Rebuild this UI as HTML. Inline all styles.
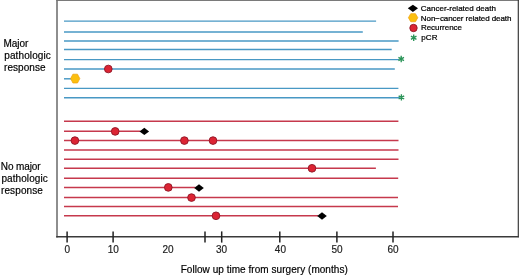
<!DOCTYPE html><html><head><meta charset="utf-8"><style>html,body{margin:0;padding:0;background:#fff;width:520px;height:276px;overflow:hidden}svg{display:block}text{font-family:"Liberation Sans",Arial,sans-serif;fill:#000;stroke:#000;stroke-width:0.18px}</style></head><body>
<svg width="520" height="276" viewBox="0 0 520 276">
<line x1="56.3" y1="0.35" x2="518.9" y2="0.35" stroke="#7a7a7a" stroke-width="1.2"/>
<line x1="57" y1="0" x2="57" y2="237.4" stroke="#727272" stroke-width="1.6"/>
<line x1="518.3" y1="0" x2="518.3" y2="237.3" stroke="#333" stroke-width="1.15"/>
<line x1="56.2" y1="236.8" x2="518.9" y2="236.8" stroke="#3a3a3a" stroke-width="1.4"/>
<line x1="64.0" y1="21.1" x2="376.1" y2="21.1" stroke="#4898c4" stroke-width="1.45"/>
<line x1="64.0" y1="31.9" x2="362.8" y2="31.9" stroke="#4898c4" stroke-width="1.45"/>
<line x1="64.0" y1="40.9" x2="398.6" y2="40.9" stroke="#4898c4" stroke-width="1.45"/>
<line x1="64.0" y1="49.5" x2="391.7" y2="49.5" stroke="#4898c4" stroke-width="1.45"/>
<line x1="64.0" y1="59.6" x2="399.0" y2="59.6" stroke="#4898c4" stroke-width="1.45"/>
<line x1="64.0" y1="68.9" x2="394.8" y2="68.9" stroke="#4898c4" stroke-width="1.45"/>
<line x1="64.0" y1="78.8" x2="72.0" y2="78.8" stroke="#4898c4" stroke-width="1.45"/>
<line x1="64.0" y1="88.35" x2="398.4" y2="88.35" stroke="#4898c4" stroke-width="1.45"/>
<line x1="64.0" y1="97.7" x2="400.0" y2="97.7" stroke="#4898c4" stroke-width="1.45"/>
<line x1="64.0" y1="121.3" x2="398.4" y2="121.3" stroke="#c6394d" stroke-width="1.45"/>
<line x1="64.0" y1="131.2" x2="140.5" y2="131.2" stroke="#c6394d" stroke-width="1.45"/>
<line x1="64.0" y1="140.5" x2="398.5" y2="140.5" stroke="#c6394d" stroke-width="1.45"/>
<line x1="64.0" y1="150.0" x2="398.5" y2="150.0" stroke="#c6394d" stroke-width="1.45"/>
<line x1="64.0" y1="159.2" x2="398.5" y2="159.2" stroke="#c6394d" stroke-width="1.45"/>
<line x1="64.0" y1="168.2" x2="375.9" y2="168.2" stroke="#c6394d" stroke-width="1.45"/>
<line x1="64.0" y1="178.2" x2="398.2" y2="178.2" stroke="#c6394d" stroke-width="1.45"/>
<line x1="64.0" y1="187.5" x2="195.5" y2="187.5" stroke="#c6394d" stroke-width="1.45"/>
<line x1="64.0" y1="197.4" x2="398.0" y2="197.4" stroke="#c6394d" stroke-width="1.45"/>
<line x1="64.0" y1="206.4" x2="398.0" y2="206.4" stroke="#c6394d" stroke-width="1.45"/>
<line x1="64.0" y1="215.7" x2="318.0" y2="215.7" stroke="#c6394d" stroke-width="1.45"/>
<circle cx="108.3" cy="69.0" r="3.85" fill="#dc2433" stroke="#8f1626" stroke-width="0.9"/>
<circle cx="115.2" cy="131.4" r="3.85" fill="#dc2433" stroke="#8f1626" stroke-width="0.9"/>
<circle cx="74.9" cy="140.6" r="3.85" fill="#dc2433" stroke="#8f1626" stroke-width="0.9"/>
<circle cx="184.4" cy="140.6" r="3.85" fill="#dc2433" stroke="#8f1626" stroke-width="0.9"/>
<circle cx="213.0" cy="140.6" r="3.85" fill="#dc2433" stroke="#8f1626" stroke-width="0.9"/>
<circle cx="312.0" cy="168.3" r="3.85" fill="#dc2433" stroke="#8f1626" stroke-width="0.9"/>
<circle cx="168.3" cy="187.4" r="3.85" fill="#dc2433" stroke="#8f1626" stroke-width="0.9"/>
<circle cx="191.5" cy="197.6" r="3.85" fill="#dc2433" stroke="#8f1626" stroke-width="0.9"/>
<circle cx="216.0" cy="215.8" r="3.85" fill="#dc2433" stroke="#8f1626" stroke-width="0.9"/>
<polygon points="139.50,131.40 144.30,127.70 149.10,131.40 144.30,135.10" fill="#000"/>
<polygon points="194.20,188.00 199.00,184.30 203.80,188.00 199.00,191.70" fill="#000"/>
<polygon points="317.20,216.00 322.00,212.30 326.80,216.00 322.00,219.70" fill="#000"/>
<polygon points="70.60,78.60 72.90,74.20 77.50,74.20 79.80,78.60 77.50,83.00 72.90,83.00" fill="#fbbf0f" stroke="#ee9f0c" stroke-width="0.7"/>
<path d="M401.20,55.80L401.20,62.20M403.97,57.40L398.43,60.60M403.97,60.60L398.43,57.40" stroke="#2a9458" stroke-width="1.35" fill="none"/>
<path d="M401.40,94.20L401.40,100.60M404.17,95.80L398.63,99.00M404.17,99.00L398.63,95.80" stroke="#2a9458" stroke-width="1.35" fill="none"/>
<line x1="67.1" y1="231.4" x2="67.1" y2="242.6" stroke="#222" stroke-width="1.5"/>
<line x1="113.1" y1="231.4" x2="113.1" y2="242.6" stroke="#222" stroke-width="1.5"/>
<line x1="205.0" y1="231.4" x2="205.0" y2="242.6" stroke="#222" stroke-width="1.5"/>
<line x1="221.7" y1="231.4" x2="221.7" y2="242.6" stroke="#222" stroke-width="1.5"/>
<line x1="279.8" y1="231.4" x2="279.8" y2="242.6" stroke="#222" stroke-width="1.5"/>
<line x1="336.9" y1="231.4" x2="336.9" y2="242.6" stroke="#222" stroke-width="1.5"/>
<line x1="393.0" y1="231.4" x2="393.0" y2="242.6" stroke="#222" stroke-width="1.5"/>
<text x="67.3" y="252.6" font-size="10" text-anchor="middle" style="fill:#222;stroke:#222">0</text>
<text x="113.3" y="252.6" font-size="10" text-anchor="middle" style="fill:#222;stroke:#222">10</text>
<text x="168.0" y="252.6" font-size="10" text-anchor="middle" style="fill:#222;stroke:#222">20</text>
<text x="221.6" y="252.6" font-size="10" text-anchor="middle" style="fill:#222;stroke:#222">30</text>
<text x="280.4" y="252.6" font-size="10" text-anchor="middle" style="fill:#222;stroke:#222">40</text>
<text x="337.0" y="252.6" font-size="10" text-anchor="middle" style="fill:#222;stroke:#222">50</text>
<text x="393.1" y="252.6" font-size="10" text-anchor="middle" style="fill:#222;stroke:#222">60</text>
<text x="180.66" y="272.6" font-size="10" letter-spacing="0.043">Follow up time from surgery (months)</text>
<text x="3.42" y="46.55" font-size="10" letter-spacing="-0.035">Major</text>
<text x="4.28" y="58.5" font-size="10" letter-spacing="0.106">pathologic</text>
<text x="3.99" y="71.0" font-size="10" letter-spacing="0.074">response</text>
<text x="0.79" y="170.2" font-size="10" letter-spacing="-0.097">No major</text>
<text x="1.41" y="182.25" font-size="10" letter-spacing="0.081">pathologic</text>
<text x="1.0" y="194.3" font-size="10" letter-spacing="0.109">response</text>
<polygon points="407.80,8.30 412.90,4.70 418.00,8.30 412.90,11.90" fill="#000"/>
<polygon points="408.40,17.70 410.75,13.65 415.45,13.65 417.80,17.70 415.45,21.75 410.75,21.75" fill="#fbbf0f" stroke="#ee9f0c" stroke-width="0.7"/>
<circle cx="413.5" cy="28.0" r="3.7" fill="#dc2433" stroke="#8f1626" stroke-width="0.9"/>
<path d="M413.70,34.60L413.70,41.00M416.47,36.20L410.93,39.40M416.47,39.40L410.93,36.20" stroke="#2a9458" stroke-width="1.35" fill="none"/>
<text x="420.83" y="11.1" font-size="8.0" letter-spacing="-0.004" style="stroke-width:0.22px">Cancer-related death</text>
<text x="420.87" y="20.65" font-size="8.0" letter-spacing="-0.076" style="stroke-width:0.22px">Non−cancer related death</text>
<text x="420.9" y="30.2" font-size="8.0" letter-spacing="-0.028" style="stroke-width:0.22px">Recurrence</text>
<text x="421.13" y="39.75" font-size="8.0" letter-spacing="0.173" style="stroke-width:0.22px">pCR</text>
</svg></body></html>
